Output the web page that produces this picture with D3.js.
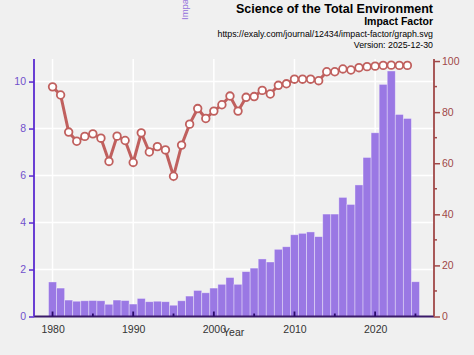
<!DOCTYPE html>
<html><head><meta charset="utf-8">
<script src="https://cdn.jsdelivr.net/npm/d3@7"></script>
<style>html,body{margin:0;padding:0;background:#f0f0f0;}svg{display:block;font-family:"Liberation Sans",Arial,sans-serif;}</style>
</head><body><svg id="c" width="474" height="355"></svg>
<script>
const years = d3.range(1980, 2026);
const impactFactor = [1.47,1.21,0.70,0.65,0.67,0.68,0.67,0.52,0.70,0.68,
  0.53,0.77,0.63,0.65,0.63,0.48,0.67,0.87,1.11,1.01,
  1.21,1.37,1.66,1.37,1.91,2.06,2.45,2.32,2.86,2.97,
  3.48,3.54,3.60,3.40,4.36,4.36,5.07,4.77,5.60,6.77,
  7.82,9.88,10.45,8.60,8.43,1.48];
const lineYears = d3.range(1980, 2025);
const percentile = [89.9,86.7,72.2,68.6,70.5,71.5,69.8,60.7,70.6,68.9,
  60.3,71.9,64.4,66.5,65.2,54.9,67.1,75.3,81.4,77.5,
  80.4,82.9,86.3,80.4,85.8,86.1,88.5,87.1,90.5,91.1,
  92.9,92.9,92.9,92.3,95.8,95.8,96.9,96.5,97.4,97.8,
  98.0,98.3,98.4,98.3,98.3];
const leftTicks = [0,2,4,6,8,10];
const rightTicks = [0,20,40,60,80,100];
const xTicks = [1980,1990,2000,2010,2020];

const svg = d3.select("#c");
const L = 34, R = 434, T = 59, B = 316.5;
const x = d3.scaleLinear().domain([1977.7, 2027.3]).range([L, R]);
const yL = d3.scaleLinear().domain([0, 10.96]).range([B, T]);
const yR = d3.scaleLinear().domain([0, 100.8]).range([B, T]);

// gridlines
const g = svg.append("g");
g.selectAll(".vg").data(xTicks).join("line")
  .attr("x1", d => x(d)).attr("x2", d => x(d)).attr("y1", T).attr("y2", B)
  .attr("stroke", "#fff").attr("stroke-width", 1.5);
g.selectAll(".hg").data(leftTicks.slice(1)).join("line")
  .attr("x1", L).attr("x2", R).attr("y1", d => yL(d)).attr("y2", d => yL(d))
  .attr("stroke", "#fff").attr("stroke-width", 1.5);

// bars
const bw = x(1981) - x(1980);
svg.append("g").selectAll("rect").data(years).join("rect")
  .attr("x", (d) => x(d) - bw / 2).attr("width", bw)
  .attr("y", (d, i) => yL(impactFactor[i])).attr("height", (d, i) => B - yL(impactFactor[i]))
  .attr("fill", "#9a78e4").attr("stroke", "rgba(255,255,255,0.45)").attr("stroke-width", 0.8);

// line
const pts = lineYears.map((d, i) => [x(d), yR(percentile[i])]);
svg.append("path").attr("d", d3.line()(pts)).attr("fill", "none")
  .attr("stroke", "#c0605e").attr("stroke-width", 3);
svg.append("g").selectAll("circle").data(pts).join("circle")
  .attr("cx", d => d[0]).attr("cy", d => d[1]).attr("r", 3.8)
  .attr("fill", "#fff").attr("stroke", "#c0605e").attr("stroke-width", 1.8);

// x axis
const xa = svg.append("g").attr("transform", `translate(0,${B})`)
  .call(d3.axisBottom(x).tickValues(xTicks).tickFormat(d3.format("d")).tickSize(0).tickPadding(9));
xa.select(".domain").remove();
xa.selectAll("text").attr("fill", "#333").attr("font-size", 10.5).attr("font-family", "Liberation Sans, Arial, sans-serif");
svg.append("line").attr("x1", L).attr("x2", R).attr("y1", B).attr("y2", B).attr("stroke", "#3a1a6a").attr("stroke-width", 2);
svg.append("g").selectAll("line").data(d3.range(1980, 2026, 5)).join("line")
  .attr("x1", d => x(d)).attr("x2", d => x(d)).attr("y1", B)
  .attr("y2", d => B - (d % 10 === 0 ? 5 : 3))
  .attr("stroke", "#2a0a6a").attr("stroke-width", 1.8);
svg.append("text").attr("x", 223).attr("y", 336).attr("font-size", 10.5).attr("fill", "#333").text("Year");

// left axis
const la = svg.append("g").attr("transform", `translate(${L},0)`)
  .call(d3.axisLeft(yL).tickValues(leftTicks).tickSize(5).tickPadding(3));
la.select(".domain").attr("d", `M0,${T}V${B}`).attr("stroke", "#5a2ad0").attr("stroke-width", 1.8);
la.selectAll(".tick line").attr("stroke", "#5a2ad0").attr("stroke-width", 1.5);
la.selectAll("text").attr("fill", "#7050cc").attr("font-size", 10.5).attr("font-family", "Liberation Sans, Arial, sans-serif");

// right axis
const ra = svg.append("g").attr("transform", `translate(${R},0)`)
  .call(d3.axisRight(yR).tickValues(rightTicks).tickSize(6).tickPadding(2));
ra.select(".domain").attr("d", `M0,${T}V${B}`).attr("stroke", "#a04848").attr("stroke-width", 1.8);
ra.selectAll(".tick line").attr("stroke", "#a04848").attr("stroke-width", 1.5);
ra.selectAll("text").attr("fill", "#a04848").attr("font-size", 10.5).attr("font-family", "Liberation Sans, Arial, sans-serif");
svg.append("g").selectAll("line").data([10,30,50,70,90]).join("line")
  .attr("x1", R).attr("x2", R + 3).attr("y1", d => yR(d)).attr("y2", d => yR(d))
  .attr("stroke", "#a04848").attr("stroke-width", 1.5);

// rotated y label (clipped at top, as in the reference)
svg.append("text").attr("transform", "translate(188,20) rotate(-90)")
  .attr("font-size", 9.5).attr("fill", "#9370DB").text("Impact Factor");

// titles
const tt = svg.append("g").attr("text-anchor", "end");
tt.append("text").attr("x", 433).attr("y", 13).attr("font-size", 12.5).attr("font-weight", "bold").attr("fill", "#000").text("Science of the Total Environment");
tt.append("text").attr("x", 433).attr("y", 24.5).attr("font-size", 10.5).attr("font-weight", "bold").attr("fill", "#000").text("Impact Factor");
tt.append("text").attr("x", 433).attr("y", 36.5).attr("font-size", 8.8).attr("fill", "#000").text("https://exaly.com/journal/12434/impact-factor/graph.svg");
tt.append("text").attr("x", 433).attr("y", 47.5).attr("font-size", 8.8).attr("fill", "#000").text("Version: 2025-12-30");
</script></body></html>
